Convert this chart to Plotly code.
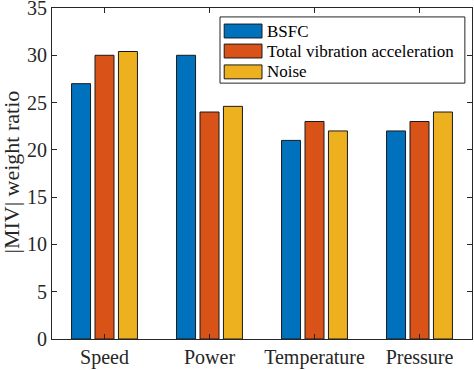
import plotly.graph_objects as go

categories = ["Speed", "Power", "Temperature", "Pressure"]
series_names = ["BSFC", "Total vibration acceleration", "Noise"]
bsfc = [27.0, 30.0, 21.0, 22.0]
vibration = [30.0, 24.0, 23.0, 23.0]
noise = [30.4, 24.6, 22.0, 24.0]
colors = ["#0072BD", "#D95319", "#EDB120"]
y_ticks = [0, 5, 10, 15, 20, 25, 30, 35]
y_title = "|MIV| weight ratio"

FONT = "Liberation Serif, Times New Roman, serif"
AX = "#262626"

fig = go.Figure()
for name, vals, col in zip(series_names, [bsfc, vibration, noise], colors):
    fig.add_trace(go.Bar(x=categories, y=vals, name=name, marker_color=col,
                         marker_line_color="#1a1a1a", marker_line_width=1,
                         showlegend=False))

# custom legend (paper coordinates)
L_x0, L_x1, L_y0, L_y1 = 0.4, 0.983, 0.773, 0.973
fig.add_shape(type="rect", xref="paper", yref="paper", x0=L_x0, x1=L_x1, y0=L_y0, y1=L_y1,
              line=dict(color=AX, width=1), fillcolor="white", layer="above")
row_y = [0.9305, 0.870, 0.807]
half_h = 0.021
for name, col, ry in zip(series_names, colors, row_y):
    fig.add_shape(type="rect", xref="paper", yref="paper", x0=0.410, x1=0.500,
                  y0=ry - half_h, y1=ry + half_h, fillcolor=col,
                  line=dict(color="#1a1a1a", width=1), layer="above")
    fig.add_annotation(xref="paper", yref="paper", x=0.507, y=ry, text=name,
                       showarrow=False, xanchor="left", yanchor="middle",
                       font=dict(family=FONT, size=17, color="#000000"))

# y-axis title as rotated annotation
fig.add_annotation(xref="paper", yref="paper", x=-0.096, y=0.505, text=y_title,
                   textangle=-90, showarrow=False, xanchor="center", yanchor="middle",
                   borderpad=0,
                   font=dict(family=FONT, size=22, color="#262626"))

fig.update_layout(
    width=474, height=370,
    margin=dict(l=52, r=2, t=8, b=31, autoexpand=False),
    paper_bgcolor="white", plot_bgcolor="white",
    barmode="group", bargap=0.33, bargroupgap=0.19,
    font=dict(family=FONT, size=19, color="#262626"),
)
fig.update_xaxes(range=[-0.5, 3.5], showline=True, linecolor=AX, linewidth=1, mirror="ticks",
                 ticks="inside", ticklen=5, tickcolor=AX, showgrid=False, automargin=False,
                 ticklabeloverflow="allow",
                 tickfont=dict(family=FONT, size=20, color="#262626"))
fig.update_yaxes(range=[0, 35], tickvals=y_ticks, showline=True, linecolor=AX, linewidth=1,
                 mirror="ticks", ticks="inside", ticklen=5, tickcolor=AX, showgrid=False,
                 zeroline=False, automargin=False, ticklabeloverflow="allow",
                 tickfont=dict(family=FONT, size=20, color="#262626"))

fig.write_html("out.html", config={"displayModeBar": False},
               post_script="document.body.style.margin='0';")
